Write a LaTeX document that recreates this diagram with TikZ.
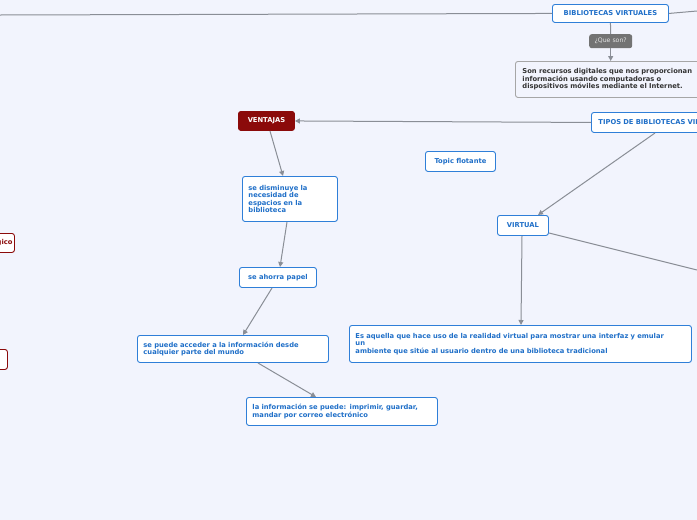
\documentclass[tikz,border=0pt]{standalone}
\usepackage{fontspec}
\setmainfont{DejaVu Sans}
\usetikzlibrary{arrows.meta}
\definecolor{bg}{HTML}{F2F4FD}
\definecolor{bl}{HTML}{1F6FC8}
\definecolor{bd}{HTML}{2F7FD8}
\definecolor{dr}{HTML}{8B0A0A}
\definecolor{ln}{HTML}{8A8E96}
\begin{document}
\begin{tikzpicture}[x=1pt,y=-1pt,
 fnt/.style={font=\bfseries\fontsize{6.75}{7.6}\selectfont},
 topic/.style={fnt,draw=bd,line width=0.9pt,fill=white,rounded corners=2.5pt,text=bl,align=left,anchor=north west,inner sep=0pt},
 red/.style={fnt,draw=dr,line width=0.9pt,fill=white,rounded corners=2.5pt,text=dr,inner sep=0pt,anchor=north west},
 con/.style={draw=ln,line width=1pt},
 arr/.style={con,-{Triangle[length=5pt,width=5pt]}}]
\fill[bg] (0,0) rectangle (697,520);
\useasboundingbox (0,0) rectangle (697,520);
\clip (0,0) rectangle (697,520);
% nodes
\node[topic,minimum width=116pt,minimum height=18pt,align=center] (bv) at (552,4) {BIBLIOTECAS VIRTUALES};
\node[draw=none,fill=gray!90!black,rounded corners=2.5pt,text=white!90!black,font=\fontsize{6.2}{7}\selectfont,minimum width=43pt,minimum height=14pt,inner sep=0pt,anchor=north west] (qs) at (589,34) {¿Que son?};
\node[fnt,draw=gray!70,line width=0.9pt,fill=bg,rounded corners=2.5pt,text=black!80,align=left,anchor=north west,minimum width=200pt,minimum height=36pt,text width=188pt,inner xsep=7pt,inner ysep=0pt] (def) at (515,61) {Son recursos digitales que nos proporcionan\\información usando computadoras o\\dispositivos móviles mediante el Internet.};
\node[topic,minimum width=145pt,minimum height=20pt,text width=133pt,inner xsep=7pt] (tipos) at (591,112) {TIPOS DE BIBLIOTECAS VIRTUALES};
\node[red,fill=dr,text=white,minimum width=56pt,minimum height=19pt,align=center] (ven) at (238,111) {VENTAJAS};
\node[topic,minimum width=70pt,minimum height=20pt,align=center] (tf) at (425,151) {Topic flotante};
\node[topic,minimum width=95pt,minimum height=45pt,text width=83pt,inner xsep=6pt] (dis) at (242,176) {se disminuye la\\necesidad de\\espacios en la\\biblioteca};
\node[topic,minimum width=77pt,minimum height=20pt,align=center] (pap) at (239,267) {se ahorra papel};
\node[topic,minimum width=191pt,minimum height=27pt,text width=179pt,inner xsep=6pt] (acc) at (137,335) {se puede acceder a la información desde\\cualquier parte del mundo};
\node[topic,minimum width=191pt,minimum height=28pt,text width=179pt,inner xsep=6pt] (inf) at (246,397) {la información se puede: imprimir, guardar,\\mandar por correo electrónico};
\node[topic,minimum width=51pt,minimum height=20pt,align=center] (vir) at (497,215) {VIRTUAL};
\node[topic,minimum width=342pt,minimum height=37pt,text width=330pt,inner xsep=6pt] (es) at (349,325) {Es aquella que hace uso de la realidad virtual para mostrar una interfaz y emular\\un\\ambiente que sitúe al usuario dentro de una biblioteca tradicional};
\node[red,minimum width=60pt,minimum height=19pt,align=right,text width=56pt] (l1) at (-46,233) {Tecnológico};
\node[red,minimum width=60pt,minimum height=20pt] (l2) at (-53,349) {};
\coordinate (e1) at (0,15);
\coordinate (e2) at (697,11);
\coordinate (e3) at (697,270);
% connectors
\draw[con] (bv.west) -- (e1);
\draw[con] (bv.east) -- (e2);
\draw[con] (bv.south) -- (qs.north);
\draw[arr] (qs.south) -- (def.north -| qs.south);
\draw[arr] (tipos.west) -- (ven.east);
\draw[arr] (655,133) -- (538,215);
\draw[arr] (270,131) -- (283,176);
\draw[arr] (287,222) -- (280,267);
\draw[arr] (272,288) -- (243,335);
\draw[arr] (258,363) -- (316,397);
\draw[arr] (522,236) -- (521,325);
\draw[con] (549,233) -- (e3);
\end{tikzpicture}
\end{document}
